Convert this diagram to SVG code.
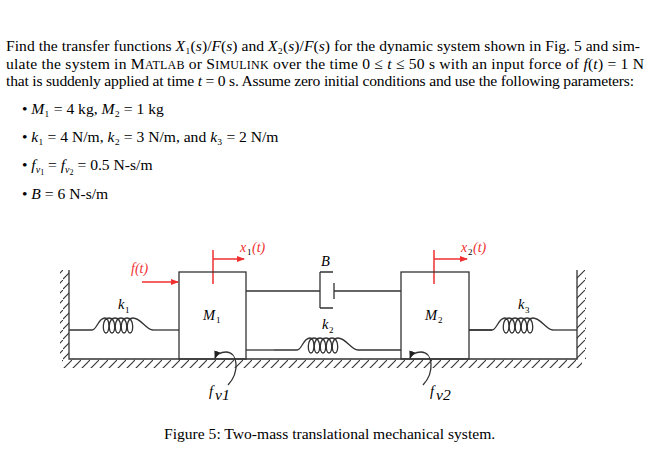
<svg xmlns="http://www.w3.org/2000/svg" width="652" height="458" viewBox="0 0 652 458">
<style>
text{font-family:"Liberation Serif","DejaVu Serif",serif;font-size:15.6px;fill:#000}
.i{font-style:italic}
.sub{font-size:9px}
.ln{stroke:#333;stroke-width:1.3;fill:none}
.red{stroke:#f03030;stroke-width:1.5;fill:none}
.rt{fill:#f03030;font-style:italic;font-size:14px}
.lb{font-style:italic;font-size:14.5px}
.t{font-size:15.6px}
</style>
<defs>
<path id="spring" class="ln" d="M0,0 H23 C28,0 29,-12 36,-12 C41,-12 41,3 37,3 C33,3 33,-12 40,-12 C47,-12 47,3 43,3 C39,3 39,-12 46,-12 C53,-12 53,3 49,3 C45,3 45,-12 52,-12 C59,-12 59,3 55,3 C51,3 51,-12 58,-12 C65,-12 65,3 61,3 C57,3 57,-12 64,-12 C72,-12 77,0 84,0"/>
<pattern id="hatch" width="9" height="10" patternUnits="userSpaceOnUse">
<path d="M9,0 L0,9" stroke="#333" stroke-width="1.1"/>
</pattern>
<marker id="ah" markerWidth="8" markerHeight="8" refX="7" refY="4" orient="auto" markerUnits="userSpaceOnUse"><path d="M0,1 L8,4 L0,7 Z" fill="#f03030"/></marker>
<marker id="bh" markerWidth="8" markerHeight="8" refX="7" refY="4" orient="auto" markerUnits="userSpaceOnUse"><path d="M0,1 L8,4 L0,7 Z" fill="#222"/></marker>
</defs>
<rect width="652" height="458" fill="#fff"/>
<text x="6" y="51" textLength="634">Find the transfer functions <tspan class="i">X</tspan>₁(<tspan class="i">s</tspan>)/<tspan class="i">F</tspan>(<tspan class="i">s</tspan>) and <tspan class="i">X</tspan>₂(<tspan class="i">s</tspan>)/<tspan class="i">F</tspan>(<tspan class="i">s</tspan>) for the dynamic system shown in Fig. 5 and sim-</text>
<text x="6" y="69" textLength="638">ulate the system in M<tspan font-size="12">ATLAB</tspan> or S<tspan font-size="12">IMULINK</tspan> over the time 0 ≤ <tspan class="i">t</tspan> ≤ 50 s with an input force of <tspan class="i">f</tspan>(<tspan class="i">t</tspan>) = 1 N</text>
<text x="6" y="86" textLength="628">that is suddenly applied at time <tspan class="i">t</tspan> = 0 s. Assume zero initial conditions and use the following parameters:</text>
<text x="22" y="114">• <tspan class="i">M</tspan>₁ = 4 kg, <tspan class="i">M</tspan>₂ = 1 kg</text>
<text x="22" y="142">• <tspan class="i">k</tspan>₁ = 4 N/m, <tspan class="i">k</tspan>₂ = 3 N/m, and <tspan class="i">k</tspan>₃ = 2 N/m</text>
<text x="22" y="170">• <tspan class="i">f</tspan><tspan class="i" font-size="10" dy="3">v</tspan><tspan font-size="8" dy="2">1</tspan><tspan dy="-5"> = </tspan><tspan class="i">f</tspan><tspan class="i" font-size="10" dy="3">v</tspan><tspan font-size="8" dy="2">2</tspan><tspan dy="-5"> = 0.5 N-s/m</tspan></text>
<text x="22" y="199">• <tspan class="i">B</tspan> = 6 N-s/m</text>

<g id="ground">
<rect x="62" y="359" width="520" height="9" fill="url(#hatch)"/>
<rect x="60" y="270" width="9" height="89" fill="url(#hatch)"/>
<rect x="577" y="270" width="9" height="89" fill="url(#hatch)"/>
<path class="ln" d="M69,270 V359 H577 V270"/>
</g>
<g id="connectors">
<use href="#spring" x="69" y="330"/>
<path class="ln" d="M153,330 H179"/>
<path class="ln" d="M246,350 H274"/>
<use href="#spring" x="274" y="350"/>
<path class="ln" d="M358,350 H401"/>
<path class="ln" d="M469,330 H492"/>
<use href="#spring" x="469" y="330"/>
<path class="ln" d="M553,330 H577"/>
<path class="ln" d="M246,291 H320 M320,272 V308 M320,272 H333 M320,308 H333 M334,283 V299 M334,291 H401"/>
<path class="ln" d="M228,385 C240,372 238,352 226,352 C220,352 216,355 215,358" marker-end="url(#bh)"/>
<path class="ln" d="M423,385 C435,372 433,352 421,352 C415,352 411,355 410,358" marker-end="url(#bh)"/>
<path class="red" d="M142,282 H178" marker-end="url(#ah)"/>
<path class="red" d="M213,250 V284 M213,259 H244" marker-end="url(#ah)"/>
<path class="red" d="M434,250 V284 M434,259 H467" marker-end="url(#ah)"/>
</g>
<g id="M1"><rect class="ln" x="179" y="272" width="67" height="87" fill="none"/><text class="lb" x="203" y="320">M</text><text class="sub" x="216" y="323">1</text></g>
<g id="M2"><rect class="ln" x="401" y="272" width="68" height="87" fill="none"/><text class="lb" x="425" y="320">M</text><text class="sub" x="438" y="323">2</text></g>
<g id="labels">
<text class="rt" x="131" y="273">f(t)</text>
<text class="rt" x="240" y="252">x</text><text class="sub" x="247" y="255" fill="#f03030">1</text><text class="rt" x="252" y="252">(t)</text>
<text class="rt" x="461" y="252">x</text><text class="sub" x="468" y="255" fill="#f03030">2</text><text class="rt" x="473" y="252">(t)</text>
<text class="lb" x="118" y="309">k</text><text class="sub" x="125" y="313">1</text>
<text class="lb" x="322" y="329">k</text><text class="sub" x="329" y="333">2</text>
<text class="lb" x="518" y="309">k</text><text class="sub" x="525" y="313">3</text>
<text class="lb" x="321" y="266">B</text>
<text class="lb" x="209" y="396">f</text><text class="i" font-size="8" x="215" y="400">v1</text>
<text class="lb" x="430" y="396">f</text><text class="i" font-size="8" x="436" y="400">v2</text>
</g>
<text x="164" y="439">Figure 5: Two-mass translational mechanical system.</text>
</svg>
